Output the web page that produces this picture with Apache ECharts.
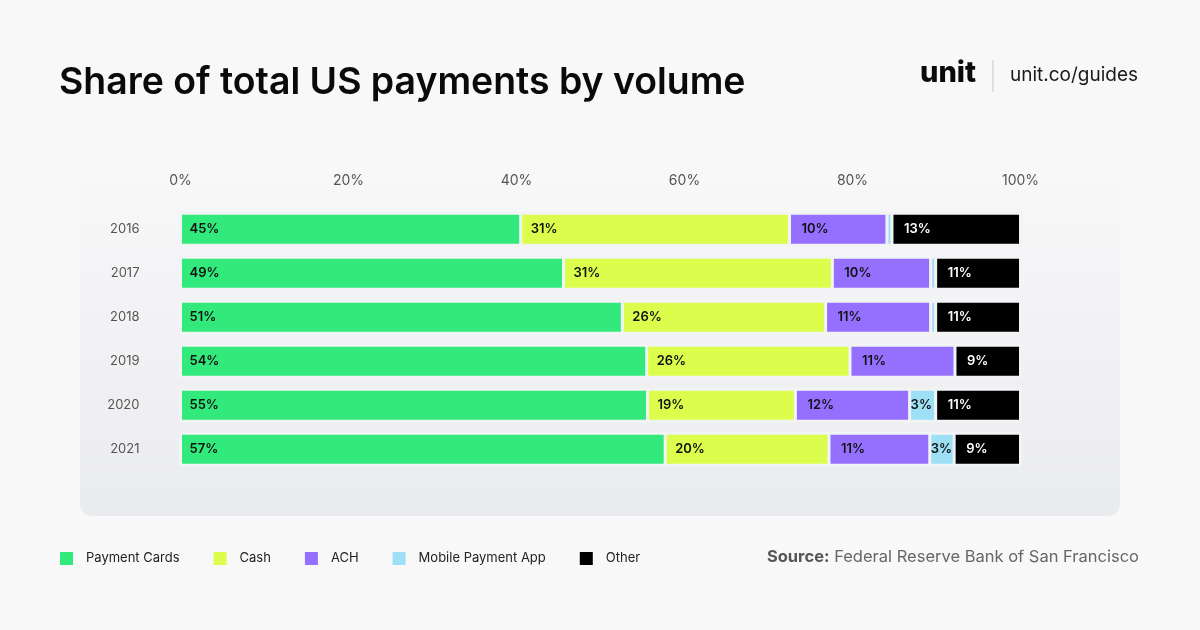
<!DOCTYPE html>
<html>
<head>
<meta charset="utf-8">
<title>Share of total US payments by volume</title>
<script src="https://cdn.jsdelivr.net/npm/echarts@6/dist/echarts.min.js"></script>
<style>
html,body{margin:0;padding:0;background:#f8f8f8;}
#chart{width:1200px;height:630px;}
</style>
</head>
<body>
<div id="chart"></div>
<script>
// data (bar widths in % of total)
var years=['2016','2017','2018','2019','2020','2021'];
var cards=[40.5,45.6,52.6,55.5,55.6,57.7];
var cash=[32.0,32.0,24.2,24.2,17.6,19.5];
var ach=[11.6,11.7,12.5,12.5,13.6,12.0];
var mobile=[0.6,0.6,0.6,0,3.1,2.9];
var other=[15.3,10.1,10.1,7.8,10.1,7.9];
// printed labels on the bars
var cardsLbl=['45%','49%','51%','54%','55%','57%'];
var cashLbl=['31%','31%','26%','26%','19%','20%'];
var achLbl=['10%','10%','11%','11%','12%','11%'];
var mobileLbl=['','','','','3%','3%'];
var otherLbl=['13%','11%','11%','9%','11%','9%'];
var track=[100,100,100,100,100,100];
var xTicks=[0,20,40,60,80,100];

var font='Inter';
var trackColor='#f2f3f5';
var chart=echarts.init(document.getElementById('chart'));

function seg(name,data,lbl,color,txtColor,dist){
    return {
        name:name,
        type:'bar',
        stack:'total',
        xAxisIndex:1,
        yAxisIndex:1,
        barWidth:32,
        data:data,
        itemStyle:{color:color,borderColor:trackColor,borderWidth:1.5},
        label:{
            show:true,
            position:'insideLeft',
            distance:dist,
            color:txtColor,
            fontFamily:font,
            fontWeight:600,
            fontSize:13,
            formatter:function(p){return lbl[p.dataIndex];}
        },
        emphasis:{disabled:true}
    };
}

var option={
    backgroundColor:'#f8f8f8',
    animation:false,
    graphic:[
        {
            type:'rect',
            z:-10,
            shape:{x:80,y:142,width:1040,height:374,r:12},
            style:{fill:new echarts.graphic.LinearGradient(0,0,0,1,[
                {offset:0,color:'#f9f9fa'},
                {offset:1,color:'#eaebee'}
            ])}
        },
        {
            type:'text',
            left:59,
            top:64,
            style:{text:'Share of total US payments by volume',font:'600 37.4px Inter',fill:'#0a0a0a'}
        },
        {
            type:'text',
            left:920,
            top:59,
            style:{text:'unit',font:'800 29px Inter',fill:'#0a0a0a'}
        },
        {
            type:'rect',
            shape:{x:992,y:60,width:2,height:32},
            style:{fill:'#e0e0e0'}
        },
        {
            type:'text',
            left:1010,
            top:66,
            style:{text:'unit.co/guides',font:'400 19px Inter',fill:'#1a1a1a'}
        },
        {
            type:'text',
            right:61,
            top:549,
            style:{
                text:'{b|Source:} Federal Reserve Bank of San Francisco',
                font:'400 16.5px Inter',
                fill:'#666666',
                rich:{b:{fontFamily:font,fontWeight:700,fontSize:16.5,fill:'#555555',color:'#555555'}}
            }
        }
    ],
    legend:{
        left:60,
        top:552,
        padding:0,
        itemWidth:13,
        itemHeight:13,
        itemGap:34,
        icon:'rect',
        selectedMode:false,
        itemStyle:{borderWidth:0},
        textStyle:{fontFamily:font,fontSize:13,color:'#222',padding:[0,0,0,8]},
        data:['Payment Cards','Cash','ACH','Mobile Payment App','Other']
    },
    grid:[
        {left:179,right:178,top:207.3,bottom:158.7},
        {left:180.5,right:179.5,top:207.3,bottom:158.7}
    ],
    xAxis:[
        {gridIndex:0,type:'value',min:0,max:100,show:false},
        {
            gridIndex:1,
            type:'value',
            position:'top',
            min:0,
            max:100,
            interval:20,
            axisLine:{show:false},
            axisTick:{show:false},
            splitLine:{show:false},
            axisLabel:{
                margin:20,
                fontFamily:font,
                fontSize:14,
                color:'#555',
                formatter:function(v){return xTicks.indexOf(v)>=0?v+'%':'';}
            }
        }
    ],
    yAxis:[
        {gridIndex:0,type:'category',inverse:true,data:years,show:false},
        {
            gridIndex:1,
            type:'category',
            inverse:true,
            data:years,
            axisLine:{show:false},
            axisTick:{show:false},
            axisLabel:{margin:41,fontFamily:font,fontSize:13,color:'#555'}
        }
    ],
    series:[
        {
            name:'track',
            type:'bar',
            xAxisIndex:0,
            yAxisIndex:0,
            barWidth:35,
            data:track,
            itemStyle:{color:trackColor},
            silent:true,
            z:1
        },
        seg('Payment Cards',cards,cardsLbl,'#32ea7c','#111',9),
        seg('Cash',cash,cashLbl,'#dcfd4c','#111',10),
        seg('ACH',ach,achLbl,'#9570ff','#111',12),
        seg('Mobile Payment App',mobile,mobileLbl,'#9ddff5','#111',1),
        seg('Other',other,otherLbl,'#000000','#ffffff',12)
    ]
};
chart.setOption(option);
</script>
</body>
</html>
